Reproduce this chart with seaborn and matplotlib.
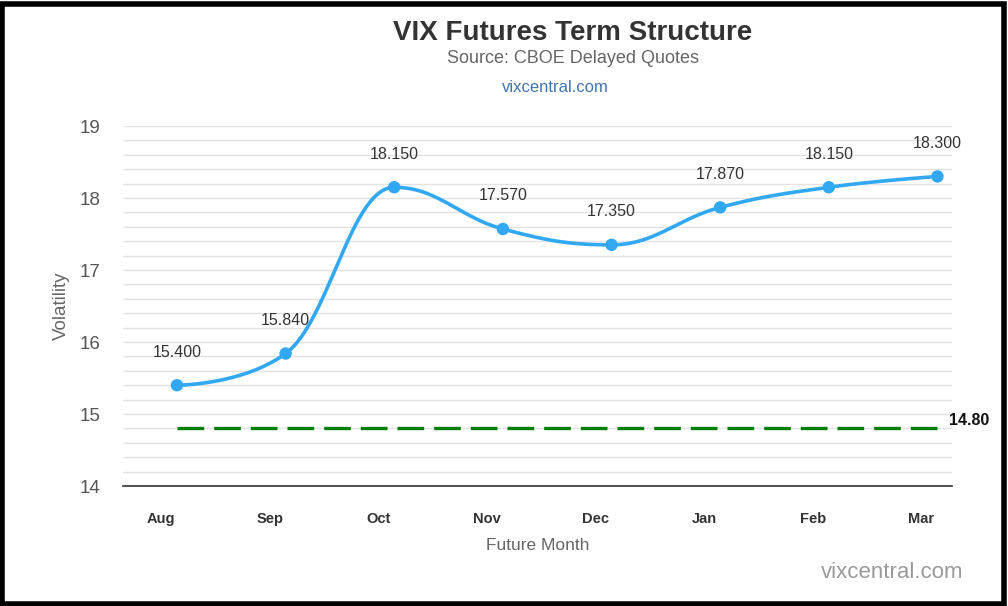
import numpy as np
import pandas as pd
import matplotlib
matplotlib.use("Agg")
import matplotlib.pyplot as plt
import seaborn as sns
from matplotlib.patches import Rectangle
from matplotlib.ticker import MultipleLocator

# data
months = ["Aug", "Sep", "Oct", "Nov", "Dec", "Jan", "Feb", "Mar"]
futures = [15.400, 15.840, 18.150, 17.570, 17.350, 17.870, 18.150, 18.300]
vix_spot = [14.80, 14.80, 14.80, 14.80, 14.80, 14.80, 14.80, 14.80]
y_ticks = [14, 15, 16, 17, 18, 19]

LINE_BLUE = "#33a8f2"
GREEN = "#008000"


def spline_curve(xs, ys, n=60):
    # highcharts-style spline: cubic bezier pieces with smoothing 1.5
    sm, den = 1.5, 2.5
    m = len(xs)
    lc = [(x, y) for x, y in zip(xs, ys)]
    rc = list(lc)
    for i in range(1, m - 1):
        px, py = xs[i], ys[i]
        lx, ly = xs[i - 1], ys[i - 1]
        nx, ny = xs[i + 1], ys[i + 1]
        lcx, lcy = (sm * px + lx) / den, (sm * py + ly) / den
        rcx, rcy = (sm * px + nx) / den, (sm * py + ny) / den
        corr = (rcy - lcy) * (rcx - px) / (rcx - lcx) + py - rcy
        lcy += corr
        rcy += corr
        if lcy > ly and lcy > py:
            lcy = max(ly, py); rcy = 2 * py - lcy
        elif lcy < ly and lcy < py:
            lcy = min(ly, py); rcy = 2 * py - lcy
        if rcy > ny and rcy > py:
            rcy = max(ny, py); lcy = 2 * py - rcy
        elif rcy < ny and rcy < py:
            rcy = min(ny, py); lcy = 2 * py - rcy
        lc[i] = (lcx, lcy)
        rc[i] = (rcx, rcy)
    t = np.linspace(0, 1, n)[:, None]
    pts = []
    for i in range(1, m):
        p0 = np.array([xs[i - 1], ys[i - 1]])
        p1 = np.array(rc[i - 1])
        p2 = np.array(lc[i])
        p3 = np.array([xs[i], ys[i]])
        seg = ((1 - t) ** 3) * p0 + 3 * ((1 - t) ** 2) * t * p1 + 3 * (1 - t) * t ** 2 * p2 + t ** 3 * p3
        pts.append(seg if i == 1 else seg[1:])
    pts = np.vstack(pts)
    return pd.DataFrame({"x": pts[:, 0], "y": pts[:, 1]})


df = pd.DataFrame({"month": months, "pos": range(len(months)),
                   "futures": futures, "spot": vix_spot})
curve = spline_curve(list(df["pos"]), futures)

sns.set_style("white")
plt.rcParams["font.family"] = ["Liberation Sans", "DejaVu Sans"]

fig = plt.figure(figsize=(10.08, 6.06), dpi=100)
ax = fig.add_axes([0.122, 0.198, 0.822, 0.594])

sns.lineplot(data=curve, x="x", y="y", ax=ax, color=LINE_BLUE, lw=2.6, sort=False,
             estimator=None, zorder=3)
sns.scatterplot(data=df, x="pos", y="futures", ax=ax, color=LINE_BLUE, s=80,
                edgecolor="none", zorder=4)
sns.lineplot(data=df, x="pos", y="spot", ax=ax, color=GREEN, lw=2.4,
             dashes=False, zorder=2).lines[-1].set_dashes((8, 3))

for _, r in df.iterrows():
    ax.annotate(f"{r['futures']:.3f}", (r["pos"], r["futures"]), xytext=(0, 33),
                textcoords="offset pixels", ha="center", va="center",
                fontsize=11.5, color="#333333", zorder=5)

last = df.iloc[-1]
ax.annotate(f"{last['spot']:.2f}", (last["pos"], last["spot"]), xytext=(12, 8),
            textcoords="offset pixels", ha="left", va="center",
            fontsize=11.5, fontweight="bold", color="#111111", annotation_clip=False)

ax.set_xlim(-0.497, 7.13)
ax.set_ylim(14, 19)
ax.set_yticks(y_ticks)
ax.yaxis.set_minor_locator(MultipleLocator(0.2))
ax.grid(axis="y", which="both", color="#e3e3e3", lw=1)
ax.set_axisbelow(True)

ax.set_xticks([p - 0.147 for p in df["pos"]])
ax.set_xticklabels(months, fontsize=10.5, fontweight="bold", color="#333333")
ax.tick_params(axis="x", length=0, pad=19)
ax.tick_params(axis="y", which="both", length=0, pad=16, labelsize=13.5, labelcolor="#555555")

for side in ["left", "right", "top"]:
    ax.spines[side].set_visible(False)
ax.spines["bottom"].set_color("#333333")
ax.spines["bottom"].set_linewidth(1.2)

ax.set_xlabel("Future Month", fontsize=12.5, color="#666666", labelpad=8)
ax.set_ylabel("Volatility", fontsize=13.5, color="#666666", labelpad=7)

fig.text(0.568, 0.946, "VIX Futures Term Structure", ha="center", va="center",
         fontsize=20, fontweight="bold", color="#333333")
fig.text(0.568, 0.904, "Source: CBOE Delayed Quotes", ha="center", va="center",
         fontsize=13, color="#666666")
fig.text(0.551, 0.855, "vixcentral.com", ha="center", va="center",
         fontsize=12, color="#3e74b0")
fig.text(0.885, 0.056, "vixcentral.com", ha="center", va="center",
         fontsize=16, color="#9a9a9a")

fig.patches.append(Rectangle((0.002, 0.004), 0.994, 0.989, transform=fig.transFigure,
                             fill=False, edgecolor="black", lw=4, zorder=10))

fig.savefig("out.png", dpi=100)
